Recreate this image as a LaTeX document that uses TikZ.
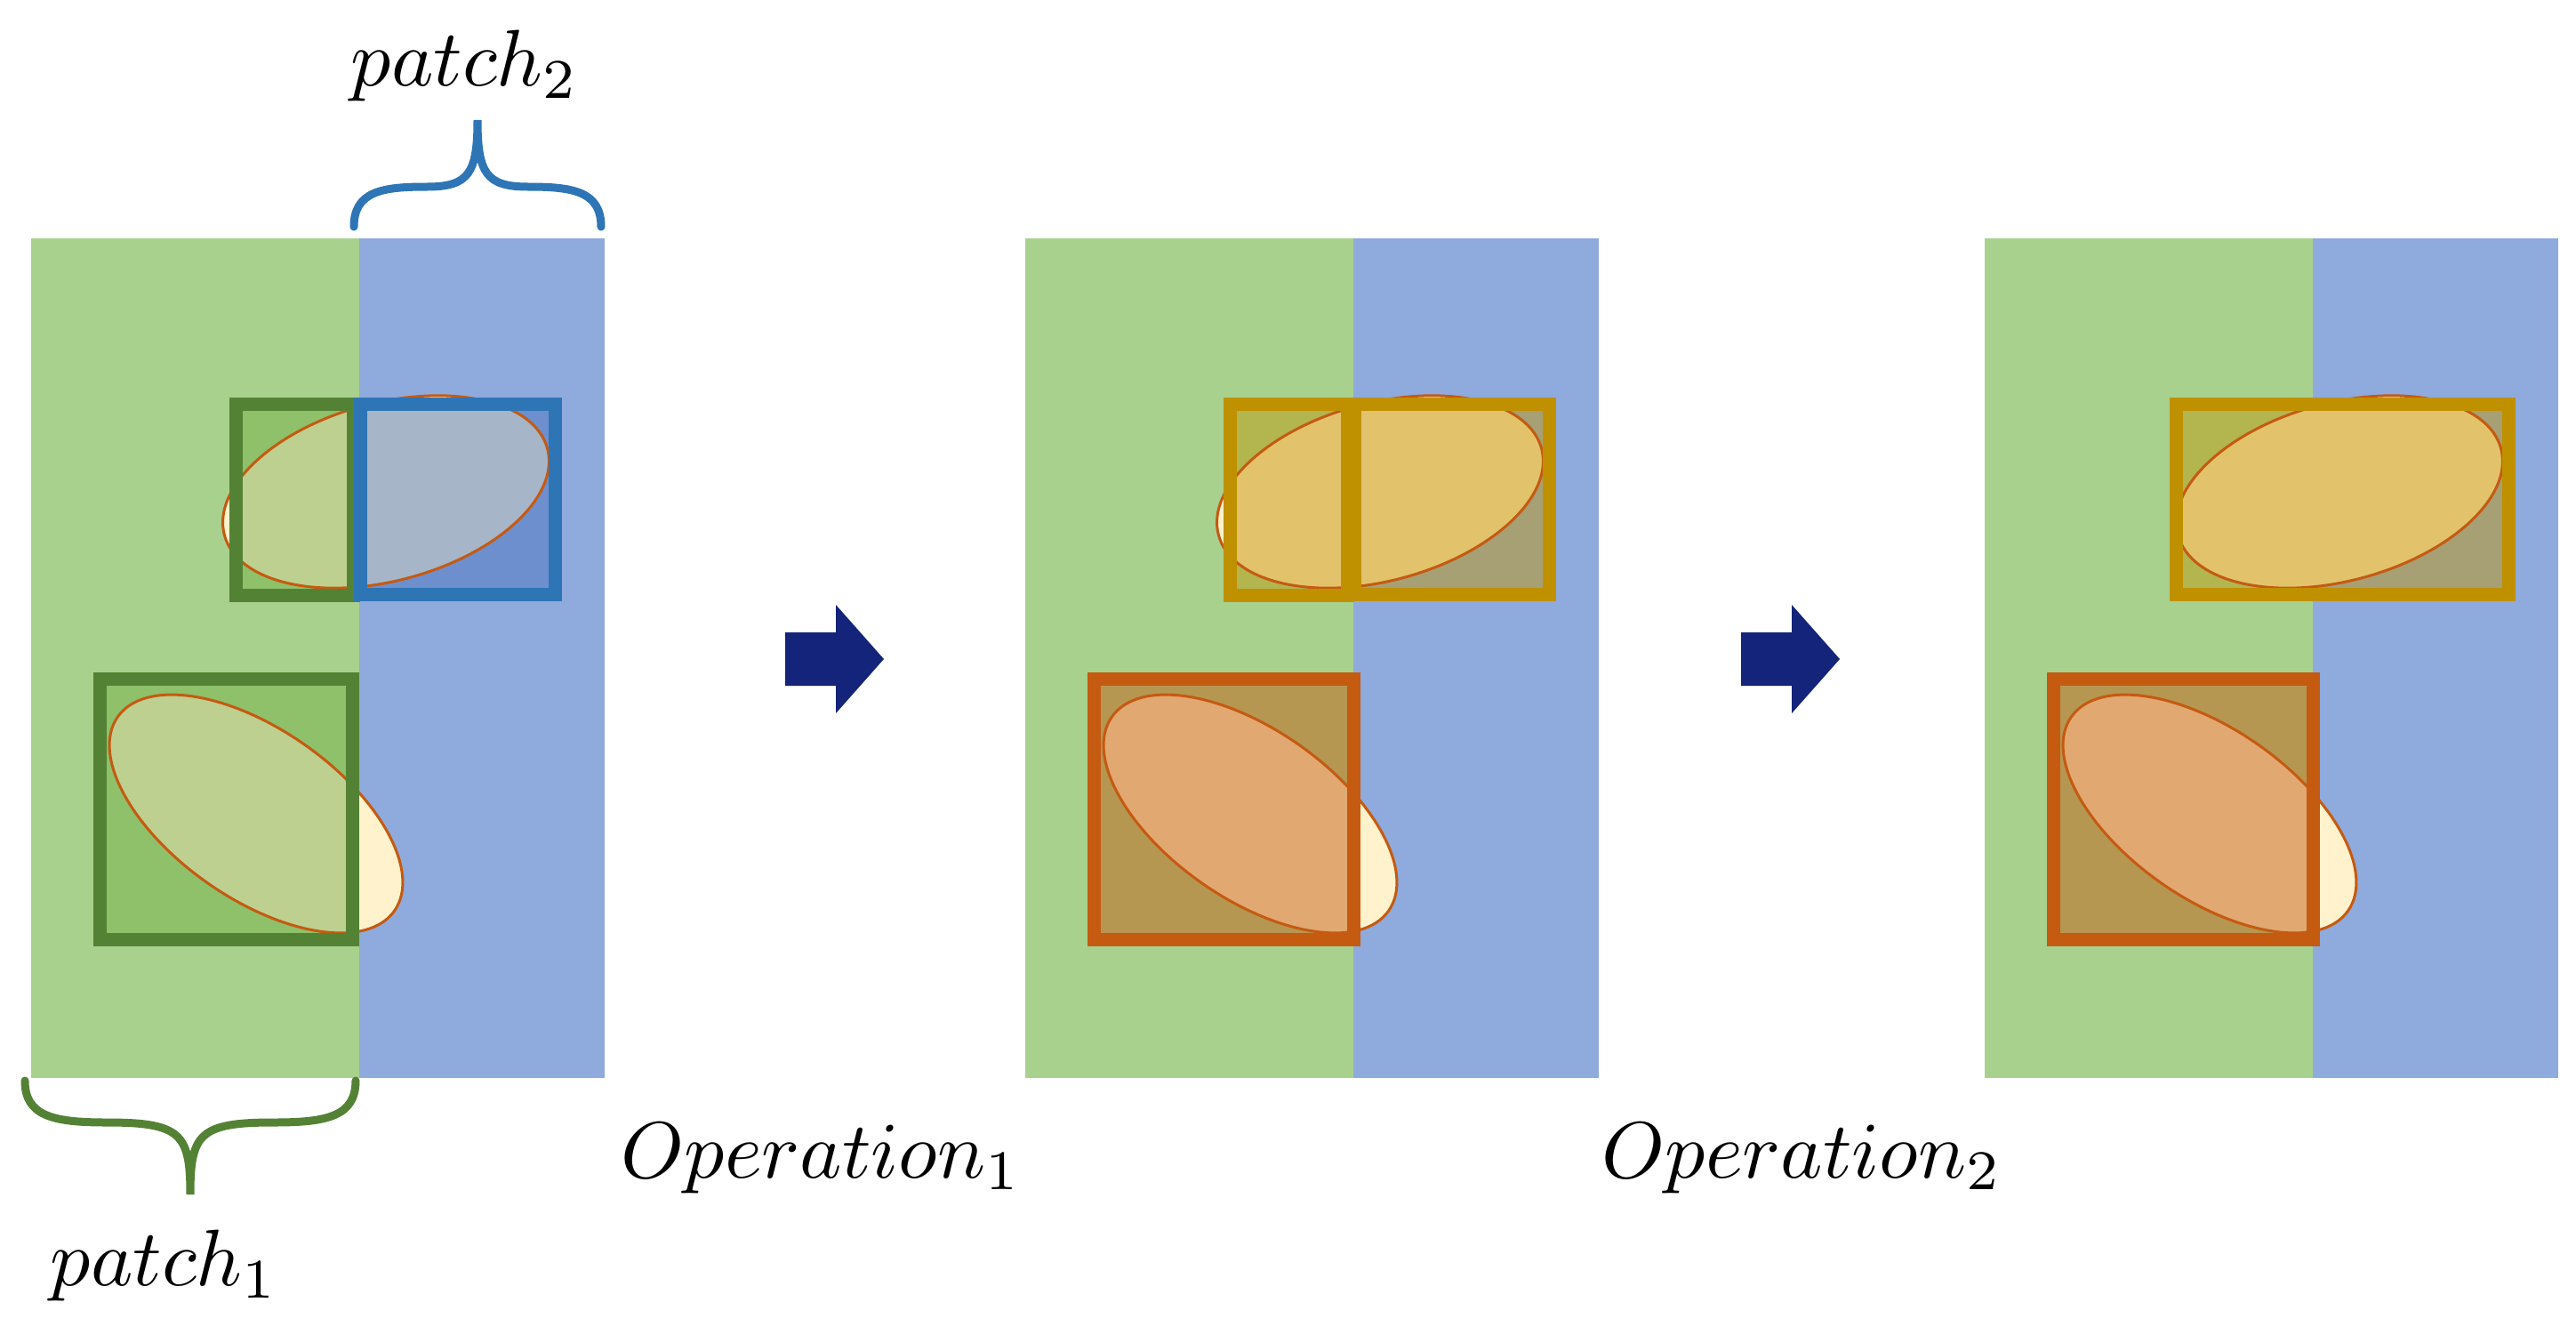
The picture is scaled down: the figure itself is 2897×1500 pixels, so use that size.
\documentclass[tikz,border=0pt]{standalone}
\begin{document}
\begin{tikzpicture}[x=1pt,y=-1pt,
  boxln/.style={line width=15},
  lbl/.style={scale=9, inner sep=0},
  brc/.style={line width=9, line cap=round}]
\definecolor{greenbg}{HTML}{A9D18E}\definecolor{bluebg}{HTML}{8FAADC}
\definecolor{dgreen}{HTML}{548235}\definecolor{dblue}{HTML}{2E75B6}
\definecolor{gold}{HTML}{BF9000}\definecolor{orng}{HTML}{C55A11}
\definecolor{creamc}{HTML}{FFF2CC}\definecolor{navy}{HTML}{14247A}
\useasboundingbox (0,0) rectangle (2897,1500);
\fill[white] (0,0) rectangle (2897,1500);
\newcommand\ellT{(434,553) ellipse [x radius=188, y radius=100, rotate=15]}
\newcommand\ellB{(288,915) ellipse [x radius=190, y radius=95, rotate=-35]}
% generic box: #1 rect, #2 left bg, #3 right bg, #4 ellipse fill, #5 border
\newcommand\mybox[5]{%
  \begin{scope}\clip #1;
    \fill[#2] (0,0) rectangle (404,1300);
    \fill[#3] (404,0) rectangle (700,1300);
    \fill[#4] \ellT; \fill[#4] \ellB;
    \draw[draw=orng, line width=3] \ellT; \draw[draw=orng, line width=3] \ellB;
  \end{scope}
  \draw[#5, boxln] #1;}
% ---------- panels ----------
\foreach \dx/\kind in {0/1,1118/2,2197/3}{
\begin{scope}[xshift=\dx]
  \fill[greenbg] (35,268) rectangle (404,1212);
  \fill[bluebg] (404,268) rectangle (680,1212);
  \draw[draw=orng, line width=3, fill=creamc] \ellT;
  \draw[draw=orng, line width=3, fill=creamc] \ellB;
  \ifnum\kind=1
    \mybox{(265,454) rectangle (397,669)}{fill={rgb,255:red,143;green,192;blue,106}}{fill={rgb,255:red,143;green,192;blue,106}}{fill={rgb,255:red,190;green,208;blue,143}}{dgreen}
    \mybox{(405,454) rectangle (624,668)}{fill={rgb,255:red,109;green,143;blue,205}}{fill={rgb,255:red,109;green,143;blue,205}}{fill={rgb,255:red,167;green,181;blue,200}}{dblue}
    \mybox{(112,763) rectangle (396,1056)}{fill={rgb,255:red,143;green,192;blue,106}}{fill={rgb,255:red,143;green,192;blue,106}}{fill={rgb,255:red,190;green,208;blue,143}}{dgreen}
  \fi
  \ifnum\kind=2
    \mybox{(265,454) rectangle (397,669)}{fill={rgb,255:red,179;green,181;blue,79}}{fill={rgb,255:red,166;green,160;blue,116}}{fill={rgb,255:red,226;green,195;blue,107}}{gold}
    \mybox{(405,454) rectangle (624,668)}{fill={rgb,255:red,179;green,181;blue,79}}{fill={rgb,255:red,166;green,160;blue,116}}{fill={rgb,255:red,226;green,195;blue,107}}{gold}
    \mybox{(112,763) rectangle (404,1056)}{fill={rgb,255:red,182;green,151;blue,81}}{fill={rgb,255:red,182;green,151;blue,81}}{fill={rgb,255:red,226;green,168;blue,114}}{orng}
  \fi
  \ifnum\kind=3
    \mybox{(250,454) rectangle (624,668)}{fill={rgb,255:red,179;green,181;blue,79}}{fill={rgb,255:red,166;green,160;blue,116}}{fill={rgb,255:red,226;green,195;blue,107}}{gold}
    \mybox{(112,763) rectangle (404,1056)}{fill={rgb,255:red,182;green,151;blue,81}}{fill={rgb,255:red,182;green,151;blue,81}}{fill={rgb,255:red,226;green,168;blue,114}}{orng}
  \fi
\end{scope}}
% ---------- arrows ----------
\foreach \ax in {883,1958}{
  \fill[navy] (\ax,711) -- (\ax+57,711) -- (\ax+57,680) -- (\ax+111,741) -- (\ax+57,802) -- (\ax+57,771) -- (\ax,771) -- cycle;}
% ---------- braces ----------
\coordinate (b2l) at (398,255); \coordinate (b2r) at (676,255); \coordinate (b2t) at (537,135);
\draw[dblue, brc] (b2l) .. controls (398,215) and (430,210) .. (480,210)
  .. controls (527,210) and (537,195) .. (b2t)
  .. controls (537,195) and (547,210) .. (594,210)
  .. controls (644,210) and (676,215) .. (b2r);
\coordinate (b1l) at (28,1215); \coordinate (b1r) at (400,1215); \coordinate (b1t) at (214,1343);
\draw[dgreen, brc] (b1l) .. controls (28,1255) and (60,1262) .. (120,1262)
  .. controls (204,1262) and (214,1275) .. (b1t)
  .. controls (214,1275) and (224,1262) .. (308,1262)
  .. controls (368,1262) and (400,1255) .. (b1r);
% ---------- labels ----------
\node[lbl] (p2) at (523,74) {$patch_2$};
\node[lbl] (p1) at (185,1423) {$patch_1$};
\node[lbl] (o1) at (924,1302) {$Operation_1$};
\node[lbl] (o2) at (2027,1302) {$Operation_2$};
\end{tikzpicture}
\end{document}
